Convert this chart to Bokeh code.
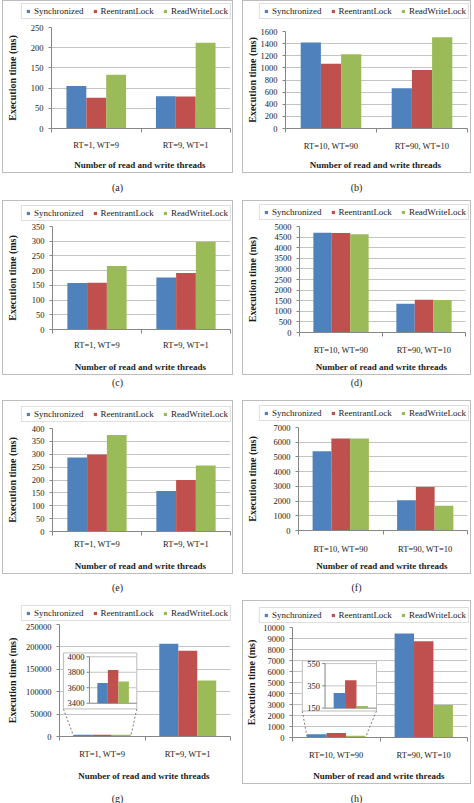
from bokeh.plotting import figure
from bokeh.layouts import column, row
from bokeh.models import (Range1d, FixedTicker, Legend, LegendItem, Div,
                          BasicTickFormatter)
from bokeh.embed import file_html
from bokeh.resources import INLINE
from bokeh.core.properties import value

# ---------------------------------------------------------------- data
SERIES = ["Synchronized", "ReentrantLock", "ReadWriteLock"]
COLORS = ["#4F81BD", "#C0504D", "#9BBB59"]

GROUPS_SMALL = ["RT=1, WT=9", "RT=9, WT=1"]
GROUPS_LARGE = ["RT=10, WT=90", "RT=90, WT=10"]

# execution time (ms) per lock type, [first configuration, second configuration]
a_sync, a_reentrant, a_rw = [105, 80], [76, 79], [133, 212]
b_sync, b_reentrant, b_rw = [1420, 665], [1070, 965], [1225, 1505]
c_sync, c_reentrant, c_rw = [158, 177], [159, 192], [216, 298]
d_sync, d_reentrant, d_rw = [4700, 1360], [4690, 1540], [4630, 1535]
e_sync, e_reentrant, e_rw = [287, 157], [299, 200], [375, 256]
f_sync, f_reentrant, f_rw = [5380, 2050], [6250, 2950], [6260, 1690]
g_sync, g_reentrant, g_rw = [3660, 207000], [3830, 191500], [3680, 125000]
h_sync, h_reentrant, h_rw = [285, 9450], [400, 8750], [170, 2950]

# y-axis tick values
a_ticks = [0, 50, 100, 150, 200, 250]
b_ticks = [0, 200, 400, 600, 800, 1000, 1200, 1400, 1600]
c_ticks = [0, 50, 100, 150, 200, 250, 300, 350]
d_ticks = [0, 500, 1000, 1500, 2000, 2500, 3000, 3500, 4000, 4500, 5000]
e_ticks = [0, 50, 100, 150, 200, 250, 300, 350, 400]
f_ticks = [0, 1000, 2000, 3000, 4000, 5000, 6000, 7000]
g_ticks = [0, 50000, 100000, 150000, 200000, 250000]
h_ticks = [0, 1000, 2000, 3000, 4000, 5000, 6000, 7000, 8000, 9000, 10000]

# zoomed insets of the first configuration
g_inset_ticks = [3400, 3600, 3800, 4000]
h_inset_ticks = [150, 350, 550]

# ---------------------------------------------------------------- style
FONT = "Liberation Serif"
TEXT = "#1a1a1a"
GRID = "#c4c4c4"
AXIS = "#868686"
BOX = "#bdbdbd"
BAR = 0.222          # bar width as a fraction of one category
LH = 22              # height of the legend strip


def add_inset(p, vals, ticks, top, inner, outer):
    """Zoomed view of the first group, drawn inside the main frame.

    inner/outer are (x0, x1, y0, y1) fractions of the frame for the
    inset plotting area and for the box around it."""
    lo, hi = ticks[0], ticks[-1]
    X0, X1 = inner[0] * 2, inner[1] * 2
    Y0, Y1 = inner[2] * top, inner[3] * top
    kx = 1.0 / (X1 - X0)
    ky = (hi - lo) / (Y1 - Y0)
    p.extra_x_ranges = {"ix": Range1d(-X0 * kx, (2 - X0) * kx)}
    p.extra_y_ranges = {"iy": Range1d(lo - Y0 * ky, lo + (top - Y0) * ky)}

    ox0, ox1 = outer[0] * 2, outer[1] * 2
    oy0, oy1 = outer[2] * top, outer[3] * top

    # dotted connectors from the inset box down to the tiny bars
    p.segment(x0=[ox0, ox1], y0=[oy0, oy0],
              x1=[0.5 - 1.5 * BAR, 0.5 + 1.5 * BAR], y1=[0, 0],
              line_color="#7a7a7a", line_dash="2 2", line_width=1)
    p.quad(left=ox0, right=ox1, bottom=oy0, top=oy1,
           fill_color="white", line_color=BOX, line_width=1)

    kw = dict(x_range_name="ix", y_range_name="iy")
    n = len(ticks) - 1
    p.segment(x0=[0] * n, x1=[1] * n, y0=ticks[1:], y1=ticks[1:],
              line_color=GRID, **kw)
    p.segment(x0=[0, 0], y0=[lo, lo], x1=[0, 1], y1=[hi, lo],
              line_color=AXIS, **kw)
    p.ray(x=[0] * len(ticks), y=ticks, length=3, length_units="screen",
          angle=3.14159265, line_color=AXIS, **kw)
    p.text(x=[0] * len(ticks), y=ticks, text=[str(t) for t in ticks],
           x_offset=-5, text_align="right", text_baseline="middle",
           text_font=value(FONT), text_font_size="8.5px", text_color=TEXT, **kw)
    for off, v, col in zip([-BAR, 0, BAR], vals, COLORS):
        p.vbar(x=[0.5 + off], bottom=[lo], top=[v], width=BAR,
               fill_color=col, line_color=None, **kw)


def legend_strip(w, leg_top):
    """Horizontal legend drawn in its own thin plot above the chart."""
    lf = figure(width=w, height=LH, x_range=Range1d(0, 1), y_range=Range1d(0, 1),
                output_backend="svg", toolbar_location=None, frame_align=False,
                x_axis_location=None, y_axis_location=None,
                min_border_left=0, min_border_right=0, min_border_bottom=0,
                min_border_top=max(leg_top - 2, 0))
    lf.outline_line_color = None
    lf.xgrid.visible = False
    lf.ygrid.visible = False
    # square legend swatches (proxies kept outside the visible range)
    proxies = [lf.scatter(x=[-5], y=[0.5], marker="square", size=6,
                          fill_color=c, line_color=None) for c in COLORS]
    lg = Legend(items=[LegendItem(label=s, renderers=[r])
                       for s, r in zip(SERIES, proxies)],
                orientation="horizontal", location="top_right")
    lg.margin = 1
    lg.padding = 2
    lg.spacing = 7
    lg.label_standoff = 2
    lg.glyph_width = 8
    lg.glyph_height = 8
    lg.label_height = 9
    lg.label_text_font = FONT
    lg.label_text_font_size = "9px"
    lg.label_text_color = TEXT
    lg.border_line_color = BOX
    lg.border_line_width = 1
    lf.add_layout(lg, "center")
    return lf


def panel(groups, sync, reentrant, rw, ticks, geom, boxed=True, inset=None):
    W, H, leg_top, (L, R, T, B), (tick_gap, title_gap, ylab_gap) = geom
    top = ticks[-1]
    p = figure(width=W - 2, height=H - 2 - LH, x_range=Range1d(0, 2),
               y_range=Range1d(0, top), output_backend="svg",
               toolbar_location=None, frame_align=False,
               min_border_left=L - 1, min_border_right=(W - 1) - R,
               min_border_top=T - 1 - LH, min_border_bottom=(H - 1) - B)
    p.outline_line_color = None

    for vals, off, col in zip([sync, reentrant, rw], [-BAR, 0, BAR], COLORS):
        xs = [i + 0.5 + off for i in range(len(groups))]
        p.vbar(x=xs, top=vals, width=BAR, fill_color=col, line_color=None)

    if inset is not None:
        add_inset(p, [sync[0], reentrant[0], rw[0]], inset[0], top, inset[1], inset[2])

    p.xgrid.visible = False
    p.ygrid.grid_line_color = GRID
    p.ygrid.ticker = FixedTicker(ticks=ticks)

    xa = p.xaxis[0]
    xa.ticker = FixedTicker(ticks=[0.5, 1.5], minor_ticks=[0, 1, 2])
    xa.major_label_overrides = {0.5: groups[0], 1.5: groups[1]}
    xa.major_tick_out = 0
    xa.major_tick_in = 0
    xa.minor_tick_out = 4
    xa.minor_tick_in = 0
    xa.major_label_standoff = tick_gap
    xa.axis_label = "Number of  read and write threads"
    xa.axis_label_standoff = title_gap
    xa.axis_label_text_font_size = "9px"

    ya = p.yaxis[0]
    ya.ticker = FixedTicker(ticks=ticks)
    ya.formatter = BasicTickFormatter(use_scientific=False)
    ya.major_tick_out = 3
    ya.major_tick_in = 0
    ya.minor_tick_out = 0
    ya.minor_tick_in = 0
    ya.major_label_standoff = 5
    ya.axis_label = "Execution time (ms)"
    ya.axis_label_standoff = ylab_gap
    ya.axis_label_text_font_size = "10px"

    for ax in (xa, ya):
        ax.axis_line_color = AXIS
        ax.major_tick_line_color = AXIS
        ax.minor_tick_line_color = AXIS
        ax.major_label_text_font = FONT
        ax.major_label_text_font_size = "8.5px"
        ax.major_label_text_color = TEXT
        ax.axis_label_text_font = FONT
        ax.axis_label_text_font_style = "bold"
        ax.axis_label_text_color = TEXT

    border = f"1px solid {BOX}" if boxed else "1px solid transparent"
    return column(legend_strip(W - 2, leg_top), p, spacing=0,
                  styles={"border": border})


def cell(box, width, caption, cap_h, cap_center, margin=(0, 0, 0, 0)):
    d = Div(text=f'<div style="margin-top:{cap_center - 6}px;line-height:12px;'
                 f'text-align:center;width:{width}px">{caption}</div>',
            width=width, height=cap_h, margin=0,
            styles={"font-family": FONT, "font-size": "10px", "color": TEXT})
    return column(box, d, spacing=0, margin=margin)


# panel geometry: outer width, outer height, legend top,
# frame (left, right, top, bottom) inside the box, axis standoffs
GA = (231, 173, 3, (45, 228, 27, 135), (7, 7, 10))
GB = (229, 173, 3, (38, 225, 31, 137), (8, 6, 0))
GC = (231, 175, 5, (45, 228, 26, 136), (6, 9, 11))
GD = (229, 175, 4, (52, 223, 26, 139), (8, 4, 14))
GE = (231, 174, 6, (45, 228, 28, 139), (3, 9, 11))
GF = (229, 174, 5, (52, 225, 27, 137), (9, 4, 13))
GG = (231, 184, 5, (51, 228, 24, 142), (8, 9, 5))
GH = (229, 184, 7, (48, 225, 27, 143), (8, 8, 3))

pa = panel(GROUPS_SMALL, a_sync, a_reentrant, a_rw, a_ticks, GA)
pb = panel(GROUPS_LARGE, b_sync, b_reentrant, b_rw, b_ticks, GB)
pc = panel(GROUPS_SMALL, c_sync, c_reentrant, c_rw, c_ticks, GC)
pd = panel(GROUPS_LARGE, d_sync, d_reentrant, d_rw, d_ticks, GD)
pe = panel(GROUPS_SMALL, e_sync, e_reentrant, e_rw, e_ticks, GE)
pf = panel(GROUPS_LARGE, f_sync, f_reentrant, f_rw, f_ticks, GF)
pg = panel(GROUPS_SMALL, g_sync, g_reentrant, g_rw, g_ticks, GG, boxed=False,
           inset=(g_inset_ticks, (0.175, 0.452, 0.297, 0.712),
                  (0.023, 0.452, 0.246, 0.746)))
ph = panel(GROUPS_LARGE, h_sync, h_reentrant, h_rw, h_ticks, GH,
           inset=(h_inset_ticks, (0.186, 0.480, 0.267, 0.672),
                  (0.056, 0.480, 0.241, 0.698)))

GAP = 9
layout = column(
    row(cell(pa, 231, "(a)", 27, 15, (0, 0, 0, 2)), cell(pb, 229, "(b)", 27, 15), spacing=GAP),
    row(cell(pc, 231, "(c)", 25, 8, (0, 0, 0, 2)), cell(pd, 229, "(d)", 25, 8), spacing=GAP),
    row(cell(pe, 231, "(e)", 26, 14, (0, 0, 0, 2)), cell(pf, 229, "(f)", 26, 14), spacing=GAP),
    row(cell(pg, 231, "(g)", 19, 15, (0, 0, 0, 2)), cell(ph, 229, "(h)", 19, 15), spacing=GAP),
    spacing=0,
)

open("out.html", "w").write(file_html(layout, INLINE))
